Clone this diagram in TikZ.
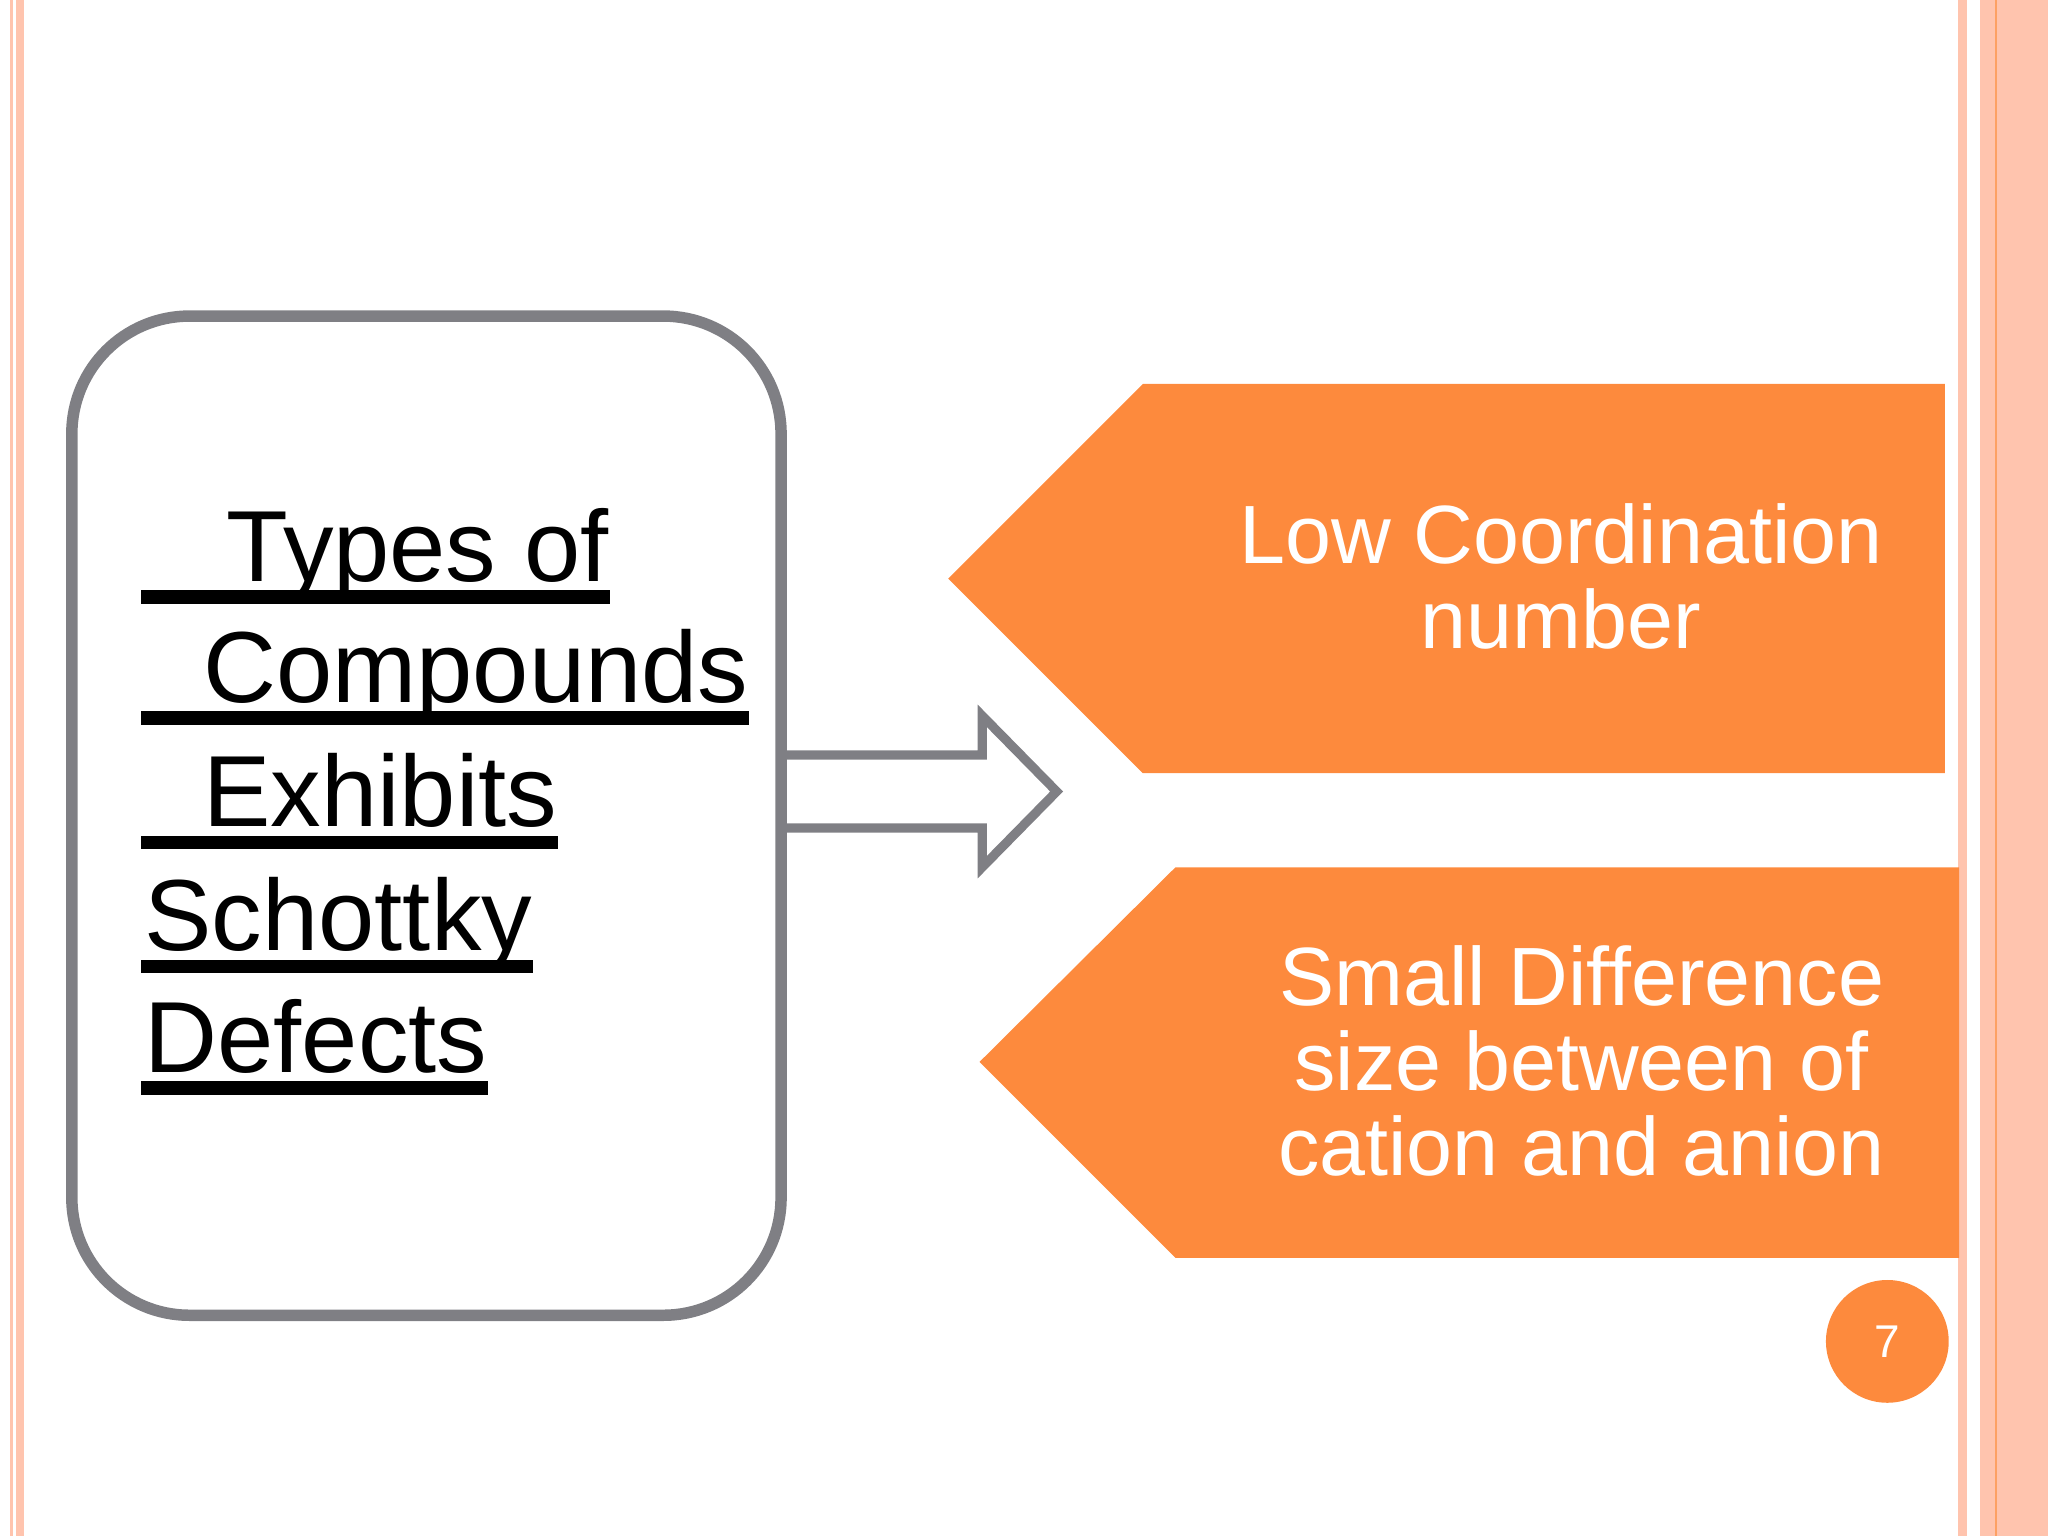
\documentclass[tikz,border=0pt]{standalone}
\usepackage{fontspec}
\setmainfont{Liberation Sans}
\usetikzlibrary{calc}
\definecolor{slideorange}{HTML}{FD8A3D}
\definecolor{bandpink}{HTML}{FFC4AE}
\definecolor{boxgray}{HTML}{7F7F84}
\begin{document}
\begin{tikzpicture}[x=0.01cm,y=-0.01cm,
    titleline/.style={anchor=base west,inner sep=0pt,font=\fontsize{22}{26}\selectfont},
    banner/.style={fill=slideorange,draw=none},
    bannertext/.style={text=white,align=center,font=\fontsize{18}{18.5}\selectfont}
]
    \useasboundingbox (0,0) rectangle (1568,1176);
    % page borders
    \fill[bandpink] (8,0) rectangle (10,1176);
    \fill[bandpink] (12,0) rectangle (18,1176);
    \fill[bandpink] (1499,0) rectangle (1506,1176);
    \fill[bandpink] (1516,0) rectangle (1568,1176);
    \fill[slideorange!80] (1527.5,0) rectangle (1529,1176);

    % title box
    \draw[boxgray,line width=2.5pt,rounded corners=0.9cm] (55,242) rectangle (598,1007);
    \node[titleline] (t1) at (173,445) {Types of};
    \node[titleline] (t2) at (155,538) {Compounds};
    \node[titleline] (t3) at (155,633) {Exhibits};
    \node[titleline] (t4) at (110,728) {Schottky};
    \node[titleline] (t5) at (110,821) {Defects};
    \foreach \n/\y in {t1/457,t2/550,t3/645,t4/740,t5/833}
        \draw[line width=3pt] (108,\y) -- (\n.east |- 0,\y);

    % block arrow
    \draw[boxgray,line width=2pt] (600,578) -- (752,578) -- (752,548) -- (809,606)
        -- (752,664) -- (752,634) -- (600,634);

    % banners
    \fill[banner] (726,443) -- (875,294) -- (1489,294) -- (1489,592) -- (875,592) -- cycle;
    \node[bannertext] (low) at (1195,441) {Low Coordination\\number};
    \fill[banner] (750,813) -- (900,664) -- (1500,664) -- (1500,963) -- (900,963) -- cycle;
    \node[bannertext] (small) at (1211,812) {Small Difference\\size between of\\cation and anion};

    % page number
    \fill[slideorange] (1445,1027) circle (47);
    \node[text=white,font=\fontsize{10}{12}\selectfont] (page) at (1445,1027) {7};
\end{tikzpicture}
\end{document}
